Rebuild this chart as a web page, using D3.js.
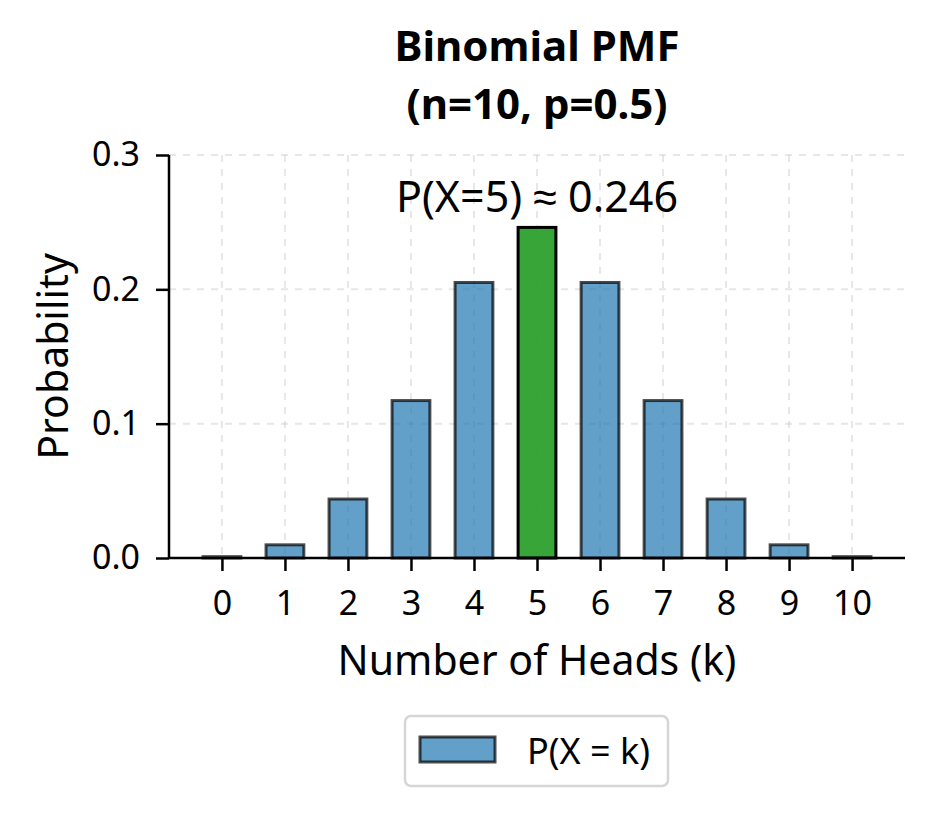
<!DOCTYPE html>
<html><head><meta charset="utf-8">
<script src="https://cdn.jsdelivr.net/npm/d3@7"></script>
<style>body{margin:0;background:#fff}svg{display:block}text{font-family:"Noto Sans",sans-serif;fill:#000}</style>
</head><body><svg id="c" width="934" height="817"></svg>
<script>
const ks = [0,1,2,3,4,5,6,7,8,9,10];
const probs = [0.001,0.0098,0.0439,0.1172,0.2051,0.2461,0.2051,0.1172,0.0439,0.0098,0.001];
const yTicks = [0.0,0.1,0.2,0.3];
const highlightK = 5;
const titleLines = ["Binomial PMF","(n=10, p=0.5)"];
const annotation = "P(X=5) \u2248 0.246";
const legendLabel = "P(X = k)";

const svg = d3.select("#c");
const L=169,R=905,T=155,B=558;
const x = d3.scaleLinear().domain([-0.84,10.84]).range([L,R]);
const y = d3.scaleLinear().domain([0,0.3]).range([B,T]);
const bw = x(0.6)-x(0);

const g = svg.append("g");
g.selectAll(".vg").data(ks).join("line").attr("x1",d=>x(d)).attr("x2",d=>x(d)).attr("y1",T).attr("y2",B)
 .attr("stroke","#b0b0b0").attr("stroke-opacity",0.3).attr("stroke-width",2).attr("stroke-dasharray","7,7");
g.selectAll(".hg").data(yTicks.slice(1)).join("line").attr("x1",L).attr("x2",R).attr("y1",d=>y(d)).attr("y2",d=>y(d))
 .attr("stroke","#b0b0b0").attr("stroke-opacity",0.3).attr("stroke-width",2).attr("stroke-dasharray","7,7");

g.selectAll(".bar").data(ks).join("rect")
 .attr("x",d=>x(d)-bw/2).attr("width",bw)
 .attr("y",(d,i)=>y(probs[i])).attr("height",(d,i)=>B-y(probs[i]))
 .attr("fill",d=>d===highlightK?"#2ca02c":"#1f77b4")
 .attr("fill-opacity",d=>d===highlightK?0.95:0.7)
 .attr("stroke","#000").attr("stroke-opacity",d=>d===highlightK?1:0.7).attr("stroke-width",3);

const xa = svg.append("g").attr("transform",`translate(0,${B})`)
 .call(d3.axisBottom(x).tickValues(ks).tickFormat(d3.format("d")).tickSize(13).tickPadding(20));
const ya = svg.append("g").attr("transform",`translate(${L},0)`)
 .call(d3.axisLeft(y).tickValues(yTicks).tickFormat(d3.format(".1f")).tickSize(13).tickPadding(16));
[xa,ya].forEach(a=>{a.attr("font-family",null).attr("font-size",null);
 a.select(".domain").attr("stroke","#000").attr("stroke-width",2.5);
 a.selectAll(".tick line").attr("stroke","#000").attr("stroke-width",2.5);
 a.selectAll(".tick text").attr("font-size",34).attr("fill","#000");});
xa.select(".domain").attr("d",`M${L},0H${R}`);
ya.select(".domain").attr("d",`M0,${B}V${T}`);

const title = svg.append("text").attr("text-anchor","middle").attr("font-size",42).attr("font-weight","bold");
title.selectAll("tspan").data(titleLines).join("tspan").attr("x",537).attr("y",(d,i)=>61+i*58).text(d=>d);
svg.append("text").attr("x",x(highlightK)).attr("y",212).attr("text-anchor","middle").attr("font-size",43).text(annotation);
svg.append("text").attr("x",537).attr("y",675).attr("text-anchor","middle").attr("font-size",41).text("Number of Heads (k)");
svg.append("text").attr("transform",`translate(68,${(T+B)/2}) rotate(-90)`).attr("text-anchor","middle").attr("font-size",41).text("Probability");

const lg = svg.append("g");
lg.append("rect").attr("x",405).attr("y",716).attr("width",263).attr("height",70).attr("rx",6)
 .attr("fill","#fff").attr("stroke","#d6d6d6").attr("stroke-width",2.5);
lg.append("rect").attr("x",420).attr("y",737).attr("width",75).attr("height",25)
 .attr("fill","#1f77b4").attr("fill-opacity",0.7).attr("stroke","#000").attr("stroke-opacity",0.7).attr("stroke-width",3);
lg.append("text").attr("x",527).attr("y",764).attr("font-size",36).text(legendLabel);
</script></body></html>
